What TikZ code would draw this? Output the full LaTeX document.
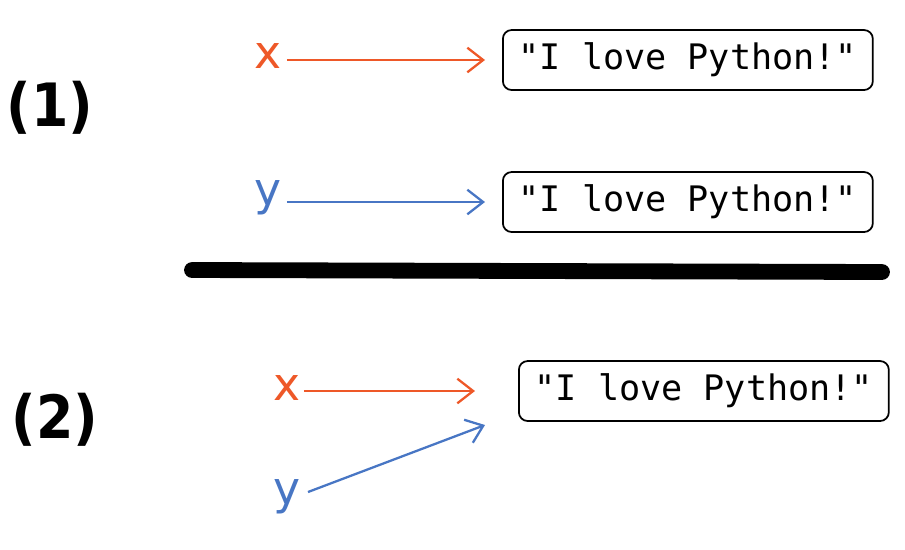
\documentclass[tikz,border=0pt]{standalone}
\usepackage{fontspec}
\setmainfont{DejaVu Sans}
\newfontfamily\monof{DejaVu Sans Mono}
\newfontfamily\numf{DejaVu Sans Condensed}
\usetikzlibrary{arrows.meta}
\definecolor{orx}{RGB}{238,88,40}
\definecolor{bly}{RGB}{72,118,196}
\tikzset{
 strbox/.style={draw,rounded corners=5pt,line width=1pt,font=\monof\fontsize{20}{22}\selectfont,minimum width=7.4cm,minimum height=1.2cm,inner sep=2pt},
 varlab/.style={font=\fontsize{26}{30}\selectfont,inner sep=0pt},
 ptr/.style={line width=1.3pt,-{Straight Barb[length=9pt,width=14pt]}},
 numlab/.style={font=\numf\bfseries\fontsize{34}{40}\selectfont}
}
\begin{document}
\begin{tikzpicture}[x=0.02cm,y=-0.02cm]
\useasboundingbox (0,0) rectangle (905,549);
\node[numlab] (n1) at (50,108) {(1)};
\node[numlab] (n2) at (55,420) {(2)};
\node[varlab,text=orx] (x1) at (268,56) {x};
\node[strbox,anchor=west] (s1) at (502,60) {"I love Python!"};
\draw[ptr,orx] ([xshift=0.1cm]x1.east |- s1.west) -- ([xshift=-0.34cm]s1.west);
\node[varlab,text=bly] (y1) at (268,198) {y};
\node[strbox,anchor=west] (s2) at (502,202) {"I love Python!"};
\draw[ptr,bly] ([xshift=0.1cm]y1.east |- s2.west) -- ([xshift=-0.34cm]s2.west);
\draw[line width=9pt,line cap=round] (192,270) coordinate (l1) -- (882,272) coordinate (l2);
\node[varlab,text=orx] (x2) at (287,388) {x};
\node[strbox,anchor=west] (s3) at (518,391) {"I love Python!"};
\draw[ptr,orx] ([xshift=0.06cm]x2.east |- s3.west) -- ([xshift=-0.86cm]s3.west);
\node[varlab,text=bly] (y2) at (287,497) {y};
\coordinate (t2) at (485,425);
\draw[ptr,bly] (308,492) -- (t2);
\end{tikzpicture}
\end{document}
